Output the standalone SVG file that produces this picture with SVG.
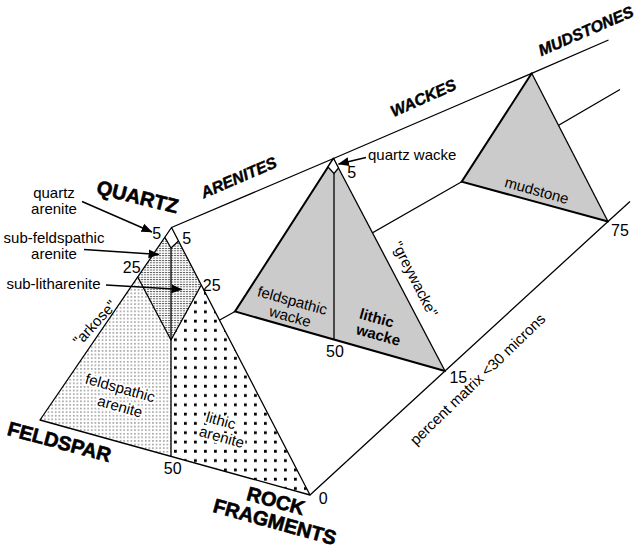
<svg xmlns="http://www.w3.org/2000/svg" width="640" height="551" viewBox="0 0 640 551">
<style>
text{font-family:"Liberation Sans",Arial,sans-serif;fill:#000}
.big{font-size:20px;font-weight:bold;stroke:#000;stroke-width:0.6}
.cls{font-size:16px;font-weight:bold;font-style:italic;stroke:#000;stroke-width:0.4}
.lbl{font-size:15px}
.halo{stroke:#fff;stroke-width:4;paint-order:stroke;stroke-linejoin:round}
.num{font-size:16px}
.edge{fill:none;stroke:#000;stroke-width:1.3;stroke-linejoin:round}
.thick{fill:none;stroke:#000;stroke-width:2;stroke-linecap:round}
.conn{fill:none;stroke:#000;stroke-width:1.3}
.arr{fill:none;stroke:#000;stroke-width:1.4}
.grey{fill:#cbcbcb}
</style>
<defs>
<marker id="ah" viewBox="0 0 10 10" refX="9.5" refY="5" markerWidth="11" markerHeight="11" markerUnits="userSpaceOnUse" orient="auto">
<path d="M0,1 L10,5 L0,9 Z" fill="#000"/>
</marker>
<pattern id="fine" width="3.6" height="3.6" patternUnits="userSpaceOnUse">
<rect width="3.6" height="3.6" fill="#fff"/><rect x="1.2" y="1.2" width="1.1" height="1.1" fill="#333"/>
</pattern>
<pattern id="coarse" width="10" height="9.3" patternUnits="userSpaceOnUse">
<rect width="10" height="9.3" fill="#fff"/><rect x="4" y="3.5" width="2.8" height="2.8" fill="#000"/>
</pattern>
<pattern id="hatch" width="3" height="2.4" patternUnits="userSpaceOnUse">
<rect width="3" height="2.4" fill="#fff"/><rect x="0" y="0.8" width="2.2" height="0.9" fill="#555"/>
</pattern>
</defs>
<rect width="640" height="551" fill="#fff"/>

<g id="connectors">
<polyline class="conn" points="171.5,227.5 333.5,158.5 531.7,73.3 608.5,40"/>
<polyline class="conn" points="40,420 235,311.5 461.7,181.7 620,89.5"/>
<polyline class="conn" points="310,495 445,371 608,221.5 630,201.5"/>
</g>

<g id="arenite-triangle">
<polygon points="171.5,227.5 164.8,237.3 171,248 178.5,241" fill="#fff"/>
<polygon points="164.8,237.3 137.7,277 171,340 171,248" fill="url(#hatch)"/>
<polygon points="171,248 171,340 201.3,285 178.5,241" fill="url(#hatch)"/>
<polygon points="137.7,277 40,420 171,456.4 171,340" fill="url(#fine)"/>
<polygon points="171,340 171,456.4 310,495 201.3,285" fill="url(#coarse)"/>
<polyline class="edge" points="164.8,237.3 171,248 178.5,241"/>
<polyline class="edge" points="137.7,277 171,340 201.3,285"/>
<line class="edge" x1="171" y1="248" x2="171" y2="456.4"/>
<polygon class="edge" points="171.5,227.5 40,420 310,495"/>
</g>

<g id="wacke-triangle">
<polygon class="grey" points="333.5,158.5 235,311.5 445,371"/>
<line x1="334" y1="173.5" x2="334" y2="339.8" stroke="#000" stroke-width="1.3"/>
<line class="edge" x1="333.5" y1="158.5" x2="445" y2="371"/>
<polyline class="thick" points="333.5,158.5 235,311.5 445,371"/>
<polygon points="333.5,158.5 328,167 334,173.5 338.5,168" fill="#fff" stroke="#000" stroke-width="1.2" stroke-linejoin="round"/>
</g>

<g id="mudstone-triangle">
<polygon class="grey" points="531.7,73.3 461.7,181.7 608,221.5"/>
<line class="edge" x1="531.7" y1="73.3" x2="608" y2="221.5"/>
<polyline class="thick" points="531.7,73.3 461.7,181.7 608,221.5"/>
</g>

<g id="callouts">
<line class="arr" marker-end="url(#ah)" x1="82" y1="201.5" x2="152" y2="232"/>
<line class="arr" marker-end="url(#ah)" x1="84" y1="249.5" x2="159" y2="254.5"/>
<line class="arr" marker-end="url(#ah)" x1="106" y1="285" x2="182" y2="289.5"/>
<line class="arr" marker-end="url(#ah)" x1="366" y1="157.5" x2="338.5" y2="164"/>
</g>

<g id="labels">
<text class="big" text-anchor="middle" transform="translate(136,203.5) rotate(14)">QUARTZ</text>
<text class="big" text-anchor="middle" transform="translate(57.5,448.5) rotate(15)">FELDSPAR</text>
<text class="big" text-anchor="middle" transform="translate(274,507.5) rotate(15.3)">ROCK</text>
<text class="big" text-anchor="middle" transform="translate(273,528.5) rotate(15.3)">FRAGMENTS</text>
<text class="cls" text-anchor="middle" transform="translate(241,182.5) rotate(-23.3)">ARENITES</text>
<text class="cls" text-anchor="middle" transform="translate(425.5,103) rotate(-24)">WACKES</text>
<text class="cls" text-anchor="middle" transform="translate(588,36) rotate(-23.3)">MUDSTONES</text>

<text class="lbl" text-anchor="middle" x="54" y="198">quartz</text>
<text class="lbl" text-anchor="middle" x="54" y="214">arenite</text>
<text class="lbl" text-anchor="middle" x="54" y="243">sub-feldspathic</text>
<text class="lbl" text-anchor="middle" x="54" y="258.5">arenite</text>
<text class="lbl" text-anchor="middle" x="53.5" y="289">sub-litharenite</text>
<text class="lbl" x="368" y="160">quartz wacke</text>

<text class="lbl" text-anchor="middle" transform="translate(98.5,326.5) rotate(-47)">"arkose"</text>
<text class="lbl" text-anchor="middle" transform="translate(410.5,281.5) rotate(63)">"greywacke"</text>
<text class="lbl halo" text-anchor="middle" transform="translate(118.7,392.8) rotate(15.5)">feldspathic</text>
<text class="lbl halo" text-anchor="middle" transform="translate(118.7,411.5) rotate(15.5)">arenite</text>
<text class="lbl halo" text-anchor="middle" transform="translate(219.4,425.5) rotate(15.5)">lithic</text>
<text class="lbl halo" text-anchor="middle" transform="translate(220.4,442) rotate(15.5)">arenite</text>
<text class="lbl" text-anchor="middle" transform="translate(291,305.5) rotate(15.5)">feldspathic</text>
<text class="lbl" text-anchor="middle" transform="translate(288.7,321.5) rotate(15.5)">wacke</text>
<text class="lbl" font-weight="bold" text-anchor="middle" transform="translate(375.4,323) rotate(15.5)">lithic</text>
<text class="lbl" font-weight="bold" text-anchor="middle" transform="translate(377,340) rotate(15.5)">wacke</text>
<text class="lbl" text-anchor="middle" transform="translate(535.4,195.5) rotate(15.3)">mudstone</text>
<text class="lbl" transform="translate(416,446) rotate(-44)">percent matrix &lt;30 microns</text>

<text class="num" text-anchor="middle" x="156.7" y="239">5</text>
<text class="num" text-anchor="middle" x="186.7" y="244">5</text>
<text class="num" text-anchor="middle" x="131.7" y="272.5">25</text>
<text class="num" text-anchor="middle" x="211.7" y="290.5">25</text>
<text class="num" text-anchor="middle" x="172.7" y="474">50</text>
<text class="num" text-anchor="middle" x="351.7" y="177.5">5</text>
<text class="num" text-anchor="middle" x="335" y="356.5">50</text>
<text class="num" text-anchor="middle" x="458.3" y="382.5">15</text>
<text class="num" text-anchor="middle" x="620" y="235.5">75</text>
<text class="num" text-anchor="middle" x="323.3" y="504">0</text>
</g>
</svg>
